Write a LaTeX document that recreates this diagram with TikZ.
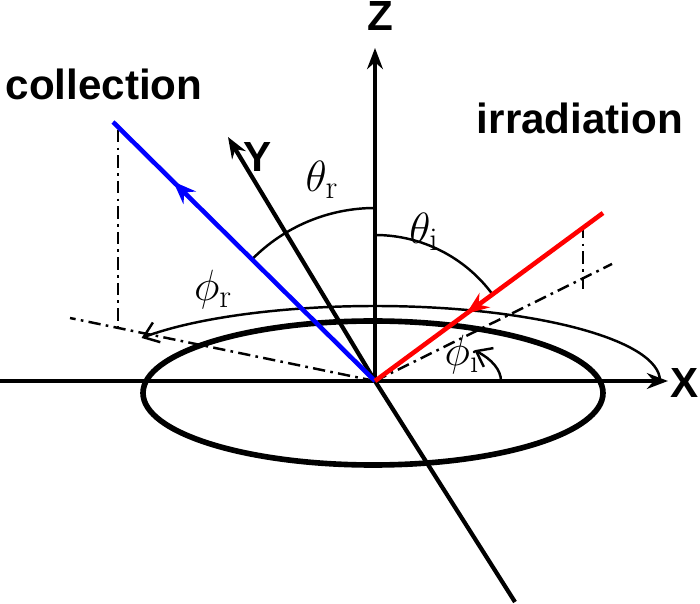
\documentclass[tikz,border=0pt]{standalone}
\usepackage{fontspec}
\newfontfamily\hv{Liberation Sans}
\usetikzlibrary{arrows.meta,decorations.markings}
\begin{document}
\begin{tikzpicture}[x=0.02cm,y=-0.02cm,
 axis/.style={line width=2.4pt,-{Stealth[length=12pt,width=9pt]}},
 dd/.style={line width=1.4pt,dash pattern=on 7pt off 3pt on 1.5pt off 3pt},
 ray/.style={line width=2.6pt,postaction={decorate},decoration={markings,mark=at position #1 with {\arrow{Stealth[length=13pt,width=10pt]}}}},
 lab/.style={font=\hv\bfseries\fontsize{24}{28}\selectfont},
 gl/.style={font=\fontsize{27}{32}\selectfont}]
\useasboundingbox (0,0) rectangle (700,604);
\coordinate (O) at (375,381);
\draw[line width=3.2pt] (373,393) ellipse [x radius=230, y radius=72];
\draw[axis] (0,381) -- (668,381);
\draw[axis] (O) -- (375,48);
\draw[line width=2.4pt] (515,602) -- (O);
\draw[axis] (O) -- (228,137);
\draw[dd] (O) -- (70,318);
\draw[dd] (O) -- (612,264);
\draw[dd] (118,130) -- (118,327);
\draw[dd] (583,226) -- (583,290);
\draw[line width=1.4pt] (375,208) arc[start angle=-90,end angle=-135.3,radius=173];
\draw[line width=1.4pt] (375,235) arc[start angle=-90,end angle=-36,radius=146];
\draw[line width=1.4pt,-{Straight Barb[length=8pt,width=12pt]}] (660,381) arc[start angle=0,end angle=-145,x radius=285,y radius=75];
\draw[line width=1.4pt,-{Straight Barb[length=8pt,width=12pt]}] (501,381) arc[start angle=0,end angle=-38,x radius=126,y radius=50];
\draw[ray=0.77,blue] (O) -- (113,122);
\draw[ray=0.6,red] (603,213) -- (O);
\node[lab] (z) at (380,16) {Z};
\node[lab] (y) at (258,157) {Y};
\node[lab] (x) at (685,383) {X};
\node[lab] (c) at (104,84) {collection};
\node[lab] (i) at (580,118) {irradiation};
\node[gl] (tr) at (322,180) {$\theta_{\mathrm r}$};
\node[gl] (ti) at (424,232) {$\theta_{\mathrm i}$};
\node[gl] (pr) at (213,290) {$\phi_{\mathrm r}$};
\node[gl] (pi) at (462,355) {$\phi_{\mathrm i}$};
\end{tikzpicture}
\end{document}
